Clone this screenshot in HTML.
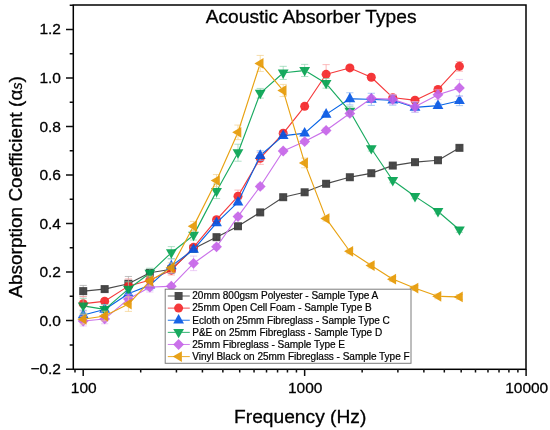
<!DOCTYPE html>
<html lang="en"><head><meta charset="utf-8"><title>Acoustic Absorber Types</title>
<style>html,body{margin:0;padding:0;background:#fff}body{width:550px;height:430px;overflow:hidden}</style></head>
<body>
<svg width="550" height="430" viewBox="0 0 550 430" style="display:block" font-family="'Liberation Sans', Arial, sans-serif">
<rect width="550" height="430" fill="#fff"/>
<g>
<path d="M83.20,285.41V296.82M79.60,285.41h7.2M79.60,296.82h7.2M104.66,286.65V291.51M101.06,286.65h7.2M101.06,291.51h7.2M128.40,276.46V291.02M124.80,276.46h7.2M124.80,291.02h7.2M149.86,270.40V275.25M146.26,270.40h7.2M146.26,275.25h7.2M171.32,266.76V271.61M167.72,266.76h7.2M167.72,271.61h7.2M193.55,246.37V251.23M189.95,246.37h7.2M189.95,251.23h7.2M216.53,234.73V239.58M212.93,234.73h7.2M212.93,239.58h7.2M237.99,223.81V228.66M234.39,223.81h7.2M234.39,228.66h7.2M260.21,209.98V214.83M256.61,209.98h7.2M256.61,214.83h7.2M283.19,194.76V199.62M279.59,194.76h7.2M279.59,199.62h7.2M304.65,189.84V194.69M301.05,189.84h7.2M301.05,194.69h7.2M326.11,181.35V186.20M322.51,181.35h7.2M322.51,186.20h7.2M349.85,174.80V179.65M346.25,174.80h7.2M346.25,179.65h7.2M371.31,170.79V175.64M367.71,170.79h7.2M367.71,175.64h7.2M392.77,163.15V168.00M389.17,163.15h7.2M389.17,168.00h7.2M415.00,159.75V164.60M411.40,159.75h7.2M411.40,164.60h7.2M437.98,157.81V162.66M434.38,157.81h7.2M434.38,162.66h7.2M459.44,145.44V150.29M455.84,145.44h7.2M455.84,150.29h7.2" stroke="#a4a4a4" stroke-width="0.7" fill="none"/>
<path d="M86.39,290.81L101.48,289.38M107.78,288.38L125.28,284.44M131.25,282.29L147.01,274.27M153.02,272.29L168.17,269.72M173.68,267.02L191.19,250.96M196.41,247.35L213.67,238.60M219.38,235.70L235.13,227.69M240.70,224.54L257.50,214.10M262.88,210.64L280.52,198.96M286.31,196.48L301.53,192.98M307.63,191.09L323.14,184.95M329.20,182.92L346.77,178.07M353.00,176.63L368.17,173.81M374.33,172.14L389.76,166.65M395.94,165.09L411.84,162.66M418.19,161.91L434.79,160.51M440.75,158.64L456.66,149.46" fill="none" stroke="#4a4a4a" stroke-width="1.15"/>
<rect x="79.20" y="287.12" width="8.0" height="8.0" fill="#363636" fill-opacity="0.9"/>
<rect x="100.66" y="285.08" width="8.0" height="8.0" fill="#363636" fill-opacity="0.9"/>
<rect x="124.40" y="279.74" width="8.0" height="8.0" fill="#363636" fill-opacity="0.9"/>
<rect x="145.86" y="268.82" width="8.0" height="8.0" fill="#363636" fill-opacity="0.9"/>
<rect x="167.32" y="265.18" width="8.0" height="8.0" fill="#363636" fill-opacity="0.9"/>
<rect x="189.55" y="244.80" width="8.0" height="8.0" fill="#363636" fill-opacity="0.9"/>
<rect x="212.53" y="233.15" width="8.0" height="8.0" fill="#363636" fill-opacity="0.9"/>
<rect x="233.99" y="222.24" width="8.0" height="8.0" fill="#363636" fill-opacity="0.9"/>
<rect x="256.21" y="208.40" width="8.0" height="8.0" fill="#363636" fill-opacity="0.9"/>
<rect x="279.19" y="193.19" width="8.0" height="8.0" fill="#363636" fill-opacity="0.9"/>
<rect x="300.65" y="188.27" width="8.0" height="8.0" fill="#363636" fill-opacity="0.9"/>
<rect x="322.11" y="179.77" width="8.0" height="8.0" fill="#363636" fill-opacity="0.9"/>
<rect x="345.85" y="173.22" width="8.0" height="8.0" fill="#363636" fill-opacity="0.9"/>
<rect x="367.31" y="169.22" width="8.0" height="8.0" fill="#363636" fill-opacity="0.9"/>
<rect x="388.77" y="161.58" width="8.0" height="8.0" fill="#363636" fill-opacity="0.9"/>
<rect x="411.00" y="158.18" width="8.0" height="8.0" fill="#363636" fill-opacity="0.9"/>
<rect x="433.98" y="156.24" width="8.0" height="8.0" fill="#363636" fill-opacity="0.9"/>
<rect x="455.44" y="143.86" width="8.0" height="8.0" fill="#363636" fill-opacity="0.9"/>
</g>
<g>
<path d="M83.20,296.43V310.99M79.60,296.43h7.2M79.60,310.99h7.2M104.66,298.78V303.64M101.06,298.78h7.2M101.06,303.64h7.2M128.40,278.89V293.45M124.80,278.89h7.2M124.80,293.45h7.2M149.86,275.25V284.95M146.26,275.25h7.2M146.26,284.95h7.2M171.32,265.30V275.01M167.72,265.30h7.2M167.72,275.01h7.2M193.55,244.92V249.77M189.95,244.92h7.2M189.95,249.77h7.2M216.53,217.35V222.21M212.93,217.35h7.2M212.93,222.21h7.2M237.99,190.08V202.21M234.39,190.08h7.2M234.39,202.21h7.2M260.21,152.23V164.36M256.61,152.23h7.2M256.61,164.36h7.2M283.19,130.88V135.73M279.59,130.88h7.2M279.59,135.73h7.2M304.65,103.94V108.80M301.05,103.94h7.2M301.05,108.80h7.2M326.11,64.64V84.05M322.51,64.64h7.2M322.51,84.05h7.2M349.85,65.49V70.34M346.25,65.49h7.2M346.25,70.34h7.2M371.31,74.83V79.68M367.71,74.83h7.2M367.71,79.68h7.2M392.77,95.21V100.06M389.17,95.21h7.2M389.17,100.06h7.2M415.00,97.88V102.73M411.40,97.88h7.2M411.40,102.73h7.2M437.98,86.96V91.81M434.38,86.96h7.2M434.38,91.81h7.2M459.44,61.48V71.19M455.84,61.48h7.2M455.84,71.19h7.2" stroke="#fa9c9d" stroke-width="0.7" fill="none"/>
<path d="M86.38,303.34L101.48,301.58M107.36,299.50L125.70,287.88M131.48,285.30L146.78,280.97M152.77,278.76L168.42,271.50M173.56,267.86L191.32,249.64M195.60,244.89L214.48,222.24M218.68,217.41L235.84,198.52M239.61,193.39L258.59,161.06M262.38,155.94L281.02,135.66M285.18,130.80L302.66,108.87M306.43,103.71L324.33,77.00M329.20,73.51L346.76,68.75M352.79,69.19L368.38,75.98M373.63,79.46L390.45,95.43M395.95,98.02L411.82,99.92M417.89,98.93L435.09,90.76M440.16,87.04L457.26,68.68" fill="none" stroke="#f53a3c" stroke-width="1.15"/>
<circle cx="83.20" cy="303.71" r="4.5" fill="#f42426" fill-opacity="0.9"/>
<circle cx="104.66" cy="301.21" r="4.5" fill="#f42426" fill-opacity="0.9"/>
<circle cx="128.40" cy="286.17" r="4.5" fill="#f42426" fill-opacity="0.9"/>
<circle cx="149.86" cy="280.10" r="4.5" fill="#f42426" fill-opacity="0.9"/>
<circle cx="171.32" cy="270.15" r="4.5" fill="#f42426" fill-opacity="0.9"/>
<circle cx="193.55" cy="247.34" r="4.5" fill="#f42426" fill-opacity="0.9"/>
<circle cx="216.53" cy="219.78" r="4.5" fill="#f42426" fill-opacity="0.9"/>
<circle cx="237.99" cy="196.15" r="4.5" fill="#f42426" fill-opacity="0.9"/>
<circle cx="260.21" cy="158.30" r="4.5" fill="#f42426" fill-opacity="0.9"/>
<circle cx="283.19" cy="133.30" r="4.5" fill="#f42426" fill-opacity="0.9"/>
<circle cx="304.65" cy="106.37" r="4.5" fill="#f42426" fill-opacity="0.9"/>
<circle cx="326.11" cy="74.34" r="4.5" fill="#f42426" fill-opacity="0.9"/>
<circle cx="349.85" cy="67.91" r="4.5" fill="#f42426" fill-opacity="0.9"/>
<circle cx="371.31" cy="77.25" r="4.5" fill="#f42426" fill-opacity="0.9"/>
<circle cx="392.77" cy="97.64" r="4.5" fill="#f42426" fill-opacity="0.9"/>
<circle cx="415.00" cy="100.30" r="4.5" fill="#f42426" fill-opacity="0.9"/>
<circle cx="437.98" cy="89.39" r="4.5" fill="#f42426" fill-opacity="0.9"/>
<circle cx="459.44" cy="66.34" r="4.5" fill="#f42426" fill-opacity="0.9"/>
</g>
<g>
<path d="M83.20,310.19V319.89M79.60,310.19h7.2M79.60,319.89h7.2M104.66,304.61V314.31M101.06,304.61h7.2M101.06,314.31h7.2M128.40,288.84V298.54M124.80,288.84h7.2M124.80,298.54h7.2M149.86,280.34V290.05M146.26,280.34h7.2M146.26,290.05h7.2M171.32,258.75V273.31M167.72,258.75h7.2M167.72,273.31h7.2M193.55,247.10V251.95M189.95,247.10h7.2M189.95,251.95h7.2M216.53,220.41V225.26M212.93,220.41h7.2M212.93,225.26h7.2M237.99,199.79V204.64M234.39,199.79h7.2M234.39,204.64h7.2M260.21,150.77V160.48M256.61,150.77h7.2M256.61,160.48h7.2M283.19,133.30V138.16M279.59,133.30h7.2M279.59,138.16h7.2M304.65,130.88V135.73M301.05,130.88h7.2M301.05,135.73h7.2M326.11,111.95V116.80M322.51,111.95h7.2M322.51,116.80h7.2M349.85,92.78V104.92M346.25,92.78h7.2M346.25,104.92h7.2M371.31,93.27V105.40M367.71,93.27h7.2M367.71,105.40h7.2M392.77,95.45V105.16M389.17,95.45h7.2M389.17,105.16h7.2M415.00,102.49V112.19M411.40,102.49h7.2M411.40,112.19h7.2M437.98,103.22V108.07M434.38,103.22h7.2M434.38,108.07h7.2M459.44,95.94V105.64M455.84,95.94h7.2M455.84,105.64h7.2" stroke="#82b1f2" stroke-width="0.7" fill="none"/>
<path d="M86.30,314.24L101.56,310.27M107.33,307.69L125.74,295.46M131.38,292.51L146.89,286.37M152.25,283.06L168.94,268.16M173.89,264.12L190.98,251.44M195.64,247.10L214.44,225.26M218.83,220.62L235.68,204.43M239.36,199.33L258.84,158.51M262.63,153.53L280.77,137.83M286.37,135.37L301.47,133.66M307.05,131.19L323.71,116.49M328.79,112.63L347.17,100.60M353.05,98.92L368.11,99.26M374.51,99.48L389.58,100.16M395.82,101.27L411.95,106.38M418.19,107.11L434.78,105.88M441.10,104.94L456.32,101.50" fill="none" stroke="#0664e6" stroke-width="1.15"/>
<polygon points="77.80,318.34 88.60,318.34 83.20,308.74" fill="#0053e3" fill-opacity="0.9"/>
<polygon points="99.26,312.76 110.06,312.76 104.66,303.16" fill="#0053e3" fill-opacity="0.9"/>
<polygon points="123.00,296.99 133.80,296.99 128.40,287.39" fill="#0053e3" fill-opacity="0.9"/>
<polygon points="144.46,288.50 155.26,288.50 149.86,278.90" fill="#0053e3" fill-opacity="0.9"/>
<polygon points="165.92,269.33 176.72,269.33 171.32,259.73" fill="#0053e3" fill-opacity="0.9"/>
<polygon points="188.15,252.83 198.95,252.83 193.55,243.23" fill="#0053e3" fill-opacity="0.9"/>
<polygon points="211.13,226.14 221.93,226.14 216.53,216.54" fill="#0053e3" fill-opacity="0.9"/>
<polygon points="232.59,205.51 243.39,205.51 237.99,195.91" fill="#0053e3" fill-opacity="0.9"/>
<polygon points="254.81,158.93 265.61,158.93 260.21,149.33" fill="#0053e3" fill-opacity="0.9"/>
<polygon points="277.79,139.03 288.59,139.03 283.19,129.43" fill="#0053e3" fill-opacity="0.9"/>
<polygon points="299.25,136.60 310.05,136.60 304.65,127.00" fill="#0053e3" fill-opacity="0.9"/>
<polygon points="320.71,117.68 331.51,117.68 326.11,108.08" fill="#0053e3" fill-opacity="0.9"/>
<polygon points="344.45,102.15 355.25,102.15 349.85,92.55" fill="#0053e3" fill-opacity="0.9"/>
<polygon points="365.91,102.63 376.71,102.63 371.31,93.03" fill="#0053e3" fill-opacity="0.9"/>
<polygon points="387.37,103.60 398.17,103.60 392.77,94.00" fill="#0053e3" fill-opacity="0.9"/>
<polygon points="409.60,110.64 420.40,110.64 415.00,101.04" fill="#0053e3" fill-opacity="0.9"/>
<polygon points="432.58,108.94 443.38,108.94 437.98,99.34" fill="#0053e3" fill-opacity="0.9"/>
<polygon points="454.04,104.09 464.84,104.09 459.44,94.49" fill="#0053e3" fill-opacity="0.9"/>
</g>
<g>
<path d="M83.20,298.54V313.10M79.60,298.54h7.2M79.60,313.10h7.2M104.66,304.61V314.31M101.06,304.61h7.2M101.06,314.31h7.2M128.40,281.80V296.36M124.80,281.80h7.2M124.80,296.36h7.2M149.86,268.21V277.92M146.26,268.21h7.2M146.26,277.92h7.2M171.32,246.62V258.75M167.72,246.62h7.2M167.72,258.75h7.2M193.55,230.36V240.07M189.95,230.36h7.2M189.95,240.07h7.2M216.53,184.02V198.57M212.93,184.02h7.2M212.93,198.57h7.2M237.99,144.22V161.21M234.39,144.22h7.2M234.39,161.21h7.2M260.21,88.42V98.12M256.61,88.42h7.2M256.61,98.12h7.2M283.19,66.34V79.44M279.59,66.34h7.2M279.59,79.44h7.2M304.65,64.39V76.53M301.05,64.39h7.2M301.05,76.53h7.2M326.11,78.47V88.17M322.51,78.47h7.2M322.51,88.17h7.2M349.85,106.37V116.08M346.25,106.37h7.2M346.25,116.08h7.2M371.31,146.16V151.02M367.71,146.16h7.2M367.71,151.02h7.2M392.77,177.95V182.80M389.17,177.95h7.2M389.17,182.80h7.2M415.00,193.96V198.82M411.40,193.96h7.2M411.40,198.82h7.2M437.98,209.01V213.86M434.38,209.01h7.2M434.38,213.86h7.2M459.44,227.45V232.30M455.84,227.45h7.2M455.84,232.30h7.2" stroke="#8cd4af" stroke-width="0.7" fill="none"/>
<path d="M86.35,306.36L101.51,308.93M107.09,307.38L125.97,291.16M130.97,287.17L147.30,274.98M152.18,270.86L169.00,254.89M173.84,250.71L191.03,237.19M195.03,232.38L215.04,194.13M218.08,188.50L236.43,155.51M239.11,149.72L259.09,96.27M262.61,91.14L280.80,75.01M286.37,72.53L301.47,70.82M307.39,72.10L323.37,81.68M328.18,85.76L347.78,108.79M351.45,114.00L369.72,145.82M373.10,151.24L390.98,177.72M395.37,182.25L412.40,194.52M417.68,198.14L435.30,209.68M440.40,213.52L457.01,227.79" fill="none" stroke="#19aa60" stroke-width="1.15"/>
<polygon points="77.80,302.42 88.60,302.42 83.20,311.82" fill="#00a14e" fill-opacity="0.9"/>
<polygon points="99.26,306.06 110.06,306.06 104.66,315.46" fill="#00a14e" fill-opacity="0.9"/>
<polygon points="123.00,285.68 133.80,285.68 128.40,295.08" fill="#00a14e" fill-opacity="0.9"/>
<polygon points="144.46,269.66 155.26,269.66 149.86,279.06" fill="#00a14e" fill-opacity="0.9"/>
<polygon points="165.92,249.28 176.72,249.28 171.32,258.68" fill="#00a14e" fill-opacity="0.9"/>
<polygon points="188.15,231.81 198.95,231.81 193.55,241.21" fill="#00a14e" fill-opacity="0.9"/>
<polygon points="211.13,187.89 221.93,187.89 216.53,197.29" fill="#00a14e" fill-opacity="0.9"/>
<polygon points="232.59,149.32 243.39,149.32 237.99,158.72" fill="#00a14e" fill-opacity="0.9"/>
<polygon points="254.81,89.87 265.61,89.87 260.21,99.27" fill="#00a14e" fill-opacity="0.9"/>
<polygon points="277.79,69.49 288.59,69.49 283.19,78.89" fill="#00a14e" fill-opacity="0.9"/>
<polygon points="299.25,67.06 310.05,67.06 304.65,76.46" fill="#00a14e" fill-opacity="0.9"/>
<polygon points="320.71,79.92 331.51,79.92 326.11,89.32" fill="#00a14e" fill-opacity="0.9"/>
<polygon points="344.45,107.82 355.25,107.82 349.85,117.22" fill="#00a14e" fill-opacity="0.9"/>
<polygon points="365.91,145.19 376.71,145.19 371.31,154.59" fill="#00a14e" fill-opacity="0.9"/>
<polygon points="387.37,176.98 398.17,176.98 392.77,186.38" fill="#00a14e" fill-opacity="0.9"/>
<polygon points="409.60,192.99 420.40,192.99 415.00,202.39" fill="#00a14e" fill-opacity="0.9"/>
<polygon points="432.58,208.03 443.38,208.03 437.98,217.43" fill="#00a14e" fill-opacity="0.9"/>
<polygon points="454.04,226.47 464.84,226.47 459.44,235.87" fill="#00a14e" fill-opacity="0.9"/>
</g>
<g>
<path d="M83.20,316.25V325.96M79.60,316.25h7.2M79.60,325.96h7.2M104.66,314.07V323.78M101.06,314.07h7.2M101.06,323.78h7.2M128.40,294.17V303.88M124.80,294.17h7.2M124.80,303.88h7.2M149.86,282.28V291.99M146.26,282.28h7.2M146.26,291.99h7.2M171.32,283.74V288.59M167.72,283.74h7.2M167.72,288.59h7.2M193.55,256.08V270.64M189.95,256.08h7.2M189.95,270.64h7.2M216.53,244.43V249.29M212.93,244.43h7.2M212.93,249.29h7.2M237.99,214.10V218.96M234.39,214.10h7.2M234.39,218.96h7.2M260.21,184.02V188.87M256.61,184.02h7.2M256.61,188.87h7.2M283.19,148.59V153.44M279.59,148.59h7.2M279.59,153.44h7.2M304.65,139.13V143.98M301.05,139.13h7.2M301.05,143.98h7.2M326.11,127.97V132.82M322.51,127.97h7.2M322.51,132.82h7.2M349.85,110.98V115.83M346.25,110.98h7.2M346.25,115.83h7.2M371.31,95.94V100.79M367.71,95.94h7.2M367.71,100.79h7.2M392.77,94.48V104.19M389.17,94.48h7.2M389.17,104.19h7.2M415.00,101.52V112.19M411.40,101.52h7.2M411.40,112.19h7.2M437.98,89.87V99.58M434.38,89.87h7.2M434.38,99.58h7.2M459.44,79.44V96.42M455.84,79.44h7.2M455.84,96.42h7.2" stroke="#e4b8f4" stroke-width="0.7" fill="none"/>
<path d="M86.38,320.78L101.48,319.25M107.11,316.87L125.95,301.08M131.20,297.48L147.06,288.69M153.06,286.99L168.13,286.31M173.56,283.88L191.32,265.65M196.15,261.49L213.93,248.73M218.37,244.25L236.14,219.14M239.89,213.96L258.31,189.02M261.96,183.76L281.45,153.70M286.12,149.73L301.72,142.84M307.49,140.08L323.27,131.87M328.71,128.53L347.25,115.27M352.47,111.57L368.69,100.20M374.51,98.51L389.58,99.19M395.80,100.36L411.97,105.83M417.83,105.36L435.15,96.22M441.03,93.76L456.39,88.90" fill="none" stroke="#ca72ea" stroke-width="1.15"/>
<polygon points="77.80,321.11 83.20,315.71 88.60,321.11 83.20,326.51" fill="#c462e8" fill-opacity="0.9"/>
<polygon points="99.26,318.92 104.66,313.52 110.06,318.92 104.66,324.32" fill="#c462e8" fill-opacity="0.9"/>
<polygon points="123.00,299.03 128.40,293.63 133.80,299.03 128.40,304.43" fill="#c462e8" fill-opacity="0.9"/>
<polygon points="144.46,287.14 149.86,281.74 155.26,287.14 149.86,292.54" fill="#c462e8" fill-opacity="0.9"/>
<polygon points="165.92,286.17 171.32,280.77 176.72,286.17 171.32,291.57" fill="#c462e8" fill-opacity="0.9"/>
<polygon points="188.15,263.36 193.55,257.96 198.95,263.36 193.55,268.76" fill="#c462e8" fill-opacity="0.9"/>
<polygon points="211.13,246.86 216.53,241.46 221.93,246.86 216.53,252.26" fill="#c462e8" fill-opacity="0.9"/>
<polygon points="232.59,216.53 237.99,211.13 243.39,216.53 237.99,221.93" fill="#c462e8" fill-opacity="0.9"/>
<polygon points="254.81,186.44 260.21,181.04 265.61,186.44 260.21,191.84" fill="#c462e8" fill-opacity="0.9"/>
<polygon points="277.79,151.02 283.19,145.62 288.59,151.02 283.19,156.42" fill="#c462e8" fill-opacity="0.9"/>
<polygon points="299.25,141.55 304.65,136.15 310.05,141.55 304.65,146.95" fill="#c462e8" fill-opacity="0.9"/>
<polygon points="320.71,130.39 326.11,124.99 331.51,130.39 326.11,135.79" fill="#c462e8" fill-opacity="0.9"/>
<polygon points="344.45,113.41 349.85,108.01 355.25,113.41 349.85,118.81" fill="#c462e8" fill-opacity="0.9"/>
<polygon points="365.91,98.36 371.31,92.96 376.71,98.36 371.31,103.76" fill="#c462e8" fill-opacity="0.9"/>
<polygon points="387.37,99.33 392.77,93.93 398.17,99.33 392.77,104.73" fill="#c462e8" fill-opacity="0.9"/>
<polygon points="409.60,106.86 415.00,101.46 420.40,106.86 415.00,112.26" fill="#c462e8" fill-opacity="0.9"/>
<polygon points="432.58,94.72 437.98,89.32 443.38,94.72 437.98,100.12" fill="#c462e8" fill-opacity="0.9"/>
<polygon points="454.04,87.93 459.44,82.53 464.84,87.93 459.44,93.33" fill="#c462e8" fill-opacity="0.9"/>
</g>
<g>
<path d="M83.20,314.31V324.02M79.60,314.31h7.2M79.60,324.02h7.2M104.66,311.16V320.86M101.06,311.16h7.2M101.06,320.86h7.2M128.40,296.84V311.40M124.80,296.84h7.2M124.80,311.40h7.2M149.86,276.22V285.92M146.26,276.22h7.2M146.26,285.92h7.2M171.32,262.87V272.58M167.72,262.87h7.2M167.72,272.58h7.2M193.55,221.38V231.09M189.95,221.38h7.2M189.95,231.09h7.2M216.53,174.55V186.68M212.93,174.55h7.2M212.93,186.68h7.2M237.99,125.05V139.61M234.39,125.05h7.2M234.39,139.61h7.2M260.21,55.42V71.43M256.61,55.42h7.2M256.61,71.43h7.2M283.19,84.41V96.54M279.59,84.41h7.2M279.59,96.54h7.2M304.65,158.05V167.76M301.05,158.05h7.2M301.05,167.76h7.2M326.11,216.17V221.02M322.51,216.17h7.2M322.51,221.02h7.2M349.85,248.92V253.77M346.25,248.92h7.2M346.25,253.77h7.2M371.31,263.12V267.97M367.71,263.12h7.2M367.71,267.97h7.2M392.77,276.70V281.56M389.17,276.70h7.2M389.17,281.56h7.2M415.00,285.68V290.53M411.40,285.68h7.2M411.40,290.53h7.2M437.98,293.93V298.78M434.38,293.93h7.2M434.38,298.78h7.2M459.44,294.49V299.34M455.84,294.49h7.2M455.84,299.34h7.2" stroke="#f3d088" stroke-width="0.7" fill="none"/>
<path d="M86.37,318.70L101.49,316.48M107.52,314.58L125.54,305.56M130.58,301.78L147.68,283.41M152.58,279.38L168.61,269.42M172.83,264.91L192.04,229.06M194.99,223.38L215.09,183.48M217.83,177.69L236.69,135.26M238.97,129.29L259.23,66.47M262.29,65.86L281.12,88.04M284.10,93.55L303.74,159.84M305.80,165.89L324.96,215.61M327.99,221.18L347.97,248.76M352.52,253.11L368.64,263.78M374.02,267.25L390.07,277.42M395.74,280.33L412.03,286.91M418.01,289.19L434.96,295.28M441.18,296.44L456.24,296.83" fill="none" stroke="#e8a212" stroke-width="1.15"/>
<polygon points="86.50,313.77 86.50,324.57 77.40,319.17" fill="#e59800" fill-opacity="0.9"/>
<polygon points="107.96,310.61 107.96,321.41 98.86,316.01" fill="#e59800" fill-opacity="0.9"/>
<polygon points="131.70,298.72 131.70,309.52 122.60,304.12" fill="#e59800" fill-opacity="0.9"/>
<polygon points="153.16,275.67 153.16,286.47 144.06,281.07" fill="#e59800" fill-opacity="0.9"/>
<polygon points="174.62,262.33 174.62,273.13 165.52,267.73" fill="#e59800" fill-opacity="0.9"/>
<polygon points="196.85,220.84 196.85,231.64 187.75,226.24" fill="#e59800" fill-opacity="0.9"/>
<polygon points="219.83,175.22 219.83,186.02 210.73,180.62" fill="#e59800" fill-opacity="0.9"/>
<polygon points="241.29,126.93 241.29,137.73 232.19,132.33" fill="#e59800" fill-opacity="0.9"/>
<polygon points="263.51,58.02 263.51,68.82 254.41,63.42" fill="#e59800" fill-opacity="0.9"/>
<polygon points="286.49,85.08 286.49,95.88 277.39,90.48" fill="#e59800" fill-opacity="0.9"/>
<polygon points="307.95,157.51 307.95,168.31 298.85,162.91" fill="#e59800" fill-opacity="0.9"/>
<polygon points="329.41,213.19 329.41,223.99 320.31,218.59" fill="#e59800" fill-opacity="0.9"/>
<polygon points="353.15,245.95 353.15,256.75 344.05,251.35" fill="#e59800" fill-opacity="0.9"/>
<polygon points="374.61,260.14 374.61,270.94 365.51,265.54" fill="#e59800" fill-opacity="0.9"/>
<polygon points="396.07,273.73 396.07,284.53 386.97,279.13" fill="#e59800" fill-opacity="0.9"/>
<polygon points="418.30,282.71 418.30,293.51 409.20,288.11" fill="#e59800" fill-opacity="0.9"/>
<polygon points="441.28,290.96 441.28,301.76 432.18,296.36" fill="#e59800" fill-opacity="0.9"/>
<polygon points="462.74,291.52 462.74,302.32 453.64,296.92" fill="#e59800" fill-opacity="0.9"/>
</g>
<rect x="165.2" y="289.2" width="245.8" height="74.10000000000002" fill="#fff" stroke="#7d7d7d" stroke-width="1"/>
<path d="M167.8,296.00H175.4M181.8,296.00H189.8" stroke="#4a4a4a" stroke-width="0.9" fill="none"/>
<rect x="174.60" y="292.00" width="8.0" height="8.0" fill="#363636" fill-opacity="0.9"/>
<text x="192.3" y="299.35" font-size="10.05" letter-spacing="-0.04" fill="#000" stroke="#000" stroke-width="0.2">20mm 800gsm Polyester - Sample Type A</text>
<path d="M167.8,308.12H175.4M181.8,308.12H189.8" stroke="#f53a3c" stroke-width="0.9" fill="none"/>
<circle cx="178.60" cy="308.12" r="4.5" fill="#f42426" fill-opacity="0.9"/>
<text x="192.3" y="311.49" font-size="10.05" letter-spacing="-0.04" fill="#000" stroke="#000" stroke-width="0.2">25mm Open Cell Foam - Sample Type B</text>
<path d="M167.8,320.24H175.4M181.8,320.24H189.8" stroke="#0664e6" stroke-width="0.9" fill="none"/>
<polygon points="173.20,323.54 184.00,323.54 178.60,313.94" fill="#0053e3" fill-opacity="0.9"/>
<text x="192.3" y="323.63" font-size="10.05" letter-spacing="-0.04" fill="#000" stroke="#000" stroke-width="0.2">Ecloth on 25mm Fibreglass - Sample Type C</text>
<path d="M167.8,332.36H175.4M181.8,332.36H189.8" stroke="#19aa60" stroke-width="0.9" fill="none"/>
<polygon points="173.20,328.96 184.00,328.96 178.60,338.36" fill="#00a14e" fill-opacity="0.9"/>
<text x="192.3" y="335.77" font-size="10.05" letter-spacing="-0.04" fill="#000" stroke="#000" stroke-width="0.2">P&amp;E on 25mm Fibreglass - Sample Type D</text>
<path d="M167.8,344.48H175.4M181.8,344.48H189.8" stroke="#ca72ea" stroke-width="0.9" fill="none"/>
<polygon points="173.20,344.48 178.60,339.08 184.00,344.48 178.60,349.88" fill="#c462e8" fill-opacity="0.9"/>
<text x="192.3" y="347.91" font-size="10.05" letter-spacing="-0.04" fill="#000" stroke="#000" stroke-width="0.2">25mm Fibreglass - Sample Type E</text>
<path d="M167.8,356.60H175.4M181.8,356.60H189.8" stroke="#e8a212" stroke-width="0.9" fill="none"/>
<polygon points="181.90,351.20 181.90,362.00 172.80,356.60" fill="#e59800" fill-opacity="0.9"/>
<text x="192.3" y="360.05" font-size="10.05" letter-spacing="-0.04" fill="#000" stroke="#000" stroke-width="0.2">Vinyl Black on 25mm Fibreglass - Sample Type F</text>
<rect x="73.3" y="5.0" width="452.7" height="364.3" fill="none" stroke="#000" stroke-width="1.5"/>
<text x="61" y="374.15" font-size="15.5" text-anchor="end" fill="#000" stroke="#000" stroke-width="0.3">−0.2</text>
<text x="61" y="325.62" font-size="15.5" text-anchor="end" fill="#000" stroke="#000" stroke-width="0.3">0.0</text>
<text x="61" y="277.09" font-size="15.5" text-anchor="end" fill="#000" stroke="#000" stroke-width="0.3">0.2</text>
<text x="61" y="228.57" font-size="15.5" text-anchor="end" fill="#000" stroke="#000" stroke-width="0.3">0.4</text>
<text x="61" y="180.04" font-size="15.5" text-anchor="end" fill="#000" stroke="#000" stroke-width="0.3">0.6</text>
<text x="61" y="131.51" font-size="15.5" text-anchor="end" fill="#000" stroke="#000" stroke-width="0.3">0.8</text>
<text x="61" y="82.98" font-size="15.5" text-anchor="end" fill="#000" stroke="#000" stroke-width="0.3">1.0</text>
<text x="61" y="34.45" font-size="15.5" text-anchor="end" fill="#000" stroke="#000" stroke-width="0.3">1.2</text>
<text x="83.80" y="393.2" font-size="15.5" text-anchor="middle" fill="#000" stroke="#000" stroke-width="0.3">100</text>
<text x="305.25" y="393.2" font-size="15.5" text-anchor="middle" fill="#000" stroke="#000" stroke-width="0.3">1000</text>
<text x="526.70" y="393.2" font-size="15.5" text-anchor="middle" fill="#000" stroke="#000" stroke-width="0.3">10000</text>
<path d="M66.0,369.15H73.3M69.7,344.89H73.3M66.0,320.62H73.3M69.7,296.36H73.3M66.0,272.09H73.3M69.7,247.83H73.3M66.0,223.57H73.3M69.7,199.30H73.3M66.0,175.04H73.3M69.7,150.77H73.3M66.0,126.51H73.3M69.7,102.25H73.3M66.0,77.98H73.3M69.7,53.72H73.3M66.0,29.45H73.3M69.7,5.19H73.3M83.20,369.3V376.1M304.65,369.3V376.1M526.10,369.3V376.1M74.99,369.3V372.5M140.70,369.3V372.5M176.43,369.3V372.5M202.43,369.3V372.5M222.87,369.3V372.5M239.72,369.3V372.5M254.05,369.3V372.5M266.52,369.3V372.5M277.56,369.3V372.5M287.46,369.3V372.5M296.44,369.3V372.5M362.15,369.3V372.5M397.88,369.3V372.5M423.88,369.3V372.5M444.32,369.3V372.5M461.17,369.3V372.5M475.50,369.3V372.5M487.97,369.3V372.5M499.01,369.3V372.5M508.91,369.3V372.5M517.89,369.3V372.5" stroke="#0d0d0d" stroke-width="1.5" fill="none"/>
<text x="311.1" y="23.4" font-size="19.2" text-anchor="middle" fill="#000" stroke="#000" stroke-width="0.3">Acoustic Absorber Types</text>
<text x="300.2" y="422.8" font-size="19.2" text-anchor="middle" fill="#000" stroke="#000" stroke-width="0.3">Frequency (Hz)</text>
<text transform="translate(22.2,187) rotate(-90)" font-size="19.0" text-anchor="middle" fill="#000" stroke="#000" stroke-width="0.3">Absorption Coefficient (α<tspan font-style="italic" font-size="14">s</tspan>)</text>
</svg>
</body></html>
